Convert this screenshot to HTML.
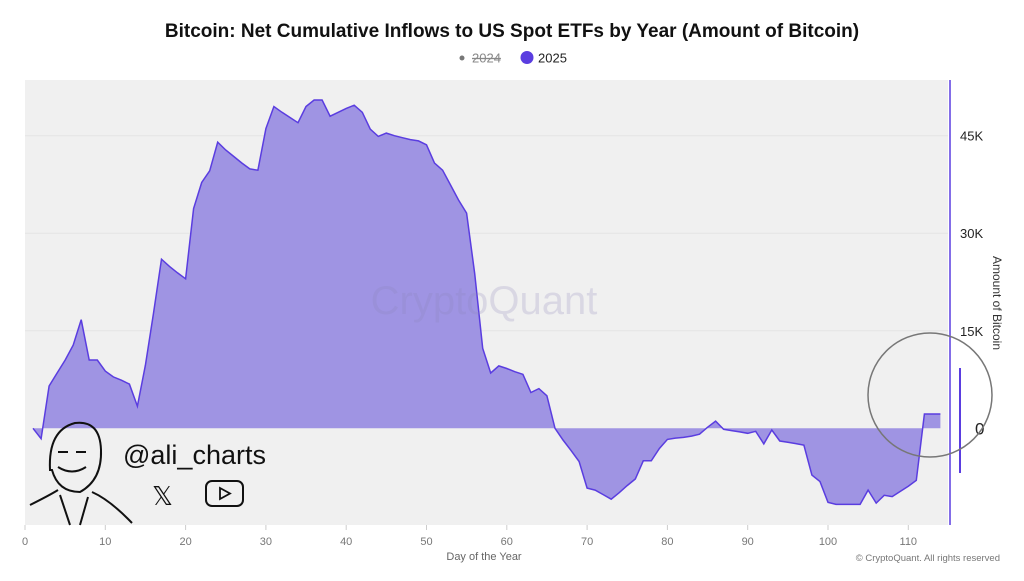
<!DOCTYPE html>
<html><head><meta charset="utf-8"><style>
body{margin:0;width:1024px;height:576px;background:#fff;overflow:hidden;font-family:"Liberation Sans",sans-serif}
</style></head><body>
<svg id="chart" width="1024" height="576" viewBox="0 0 1024 576" font-family="Liberation Sans, sans-serif">
<text x="512" y="37" text-anchor="middle" font-size="19" font-weight="bold" fill="#111">Bitcoin: Net Cumulative Inflows to US Spot ETFs by Year (Amount of Bitcoin)</text>
<g><circle cx="462" cy="58" r="2.5" fill="#777"/><text x="472" y="62.5" font-size="13" fill="#888" text-decoration="line-through">2024</text></g>
<g><circle cx="527" cy="57.5" r="6.5" fill="#5a3de0"/><text x="538" y="62.5" font-size="13" fill="#222">2025</text></g>
<rect x="25" y="80" width="923" height="445" fill="#f0f0f0"/>
<g id="grid"></g>
<g id="series"></g>
<text x="484" y="314" text-anchor="middle" font-size="40" fill="#8a84b8" opacity="0.22">CryptoQuant</text>
<line x1="950" y1="80" x2="950" y2="525" stroke="#5a3de0" stroke-width="1.5"/>
<line x1="960" y1="368" x2="960" y2="473" stroke="#5a3de0" stroke-width="2"/>
<g id="yticks"></g>
<g id="xticks"></g>
<text x="993" y="303" font-size="12" fill="#333" transform="rotate(90 993 303)" text-anchor="middle">Amount of Bitcoin</text>
<text x="484" y="560" text-anchor="middle" font-size="11" fill="#666">Day of the Year</text>
<text x="1000" y="561" text-anchor="end" font-size="9.5" fill="#777">© CryptoQuant. All rights reserved</text>
<circle cx="930" cy="395" r="62" fill="none" stroke="#777" stroke-width="1.5"/>
<g fill="none" stroke="#111" stroke-width="2">
<path d="M50 470 Q48 430 75 423 Q100 420 101 450 Q102 480 80 492 Q58 492 52 470 Z"/>
<path d="M58 467 Q72 476 86 467"/><path d="M58 452 h10 M76 452 h10"/>
<path d="M30 505 Q50 495 58 490 M92 492 Q110 500 132 523 M60 495 L70 525 M88 497 L80 525"/>
</g>
<text x="123" y="464" font-size="27" fill="#111">@ali_charts</text>
<text x="152" y="505" font-size="26" fill="#111">𝕏</text>
<g><rect x="206" y="481" width="37" height="25" rx="6" fill="none" stroke="#111" stroke-width="2"/><path d="M220 488 L230 493.5 L220 499 Z" fill="none" stroke="#111" stroke-width="1.8"/></g>
</svg>
<script>
const days=[];for(let i=1;i<=114;i++)days.push(i);
const values=[0,-1.6,6.5,8.5,10.5,12.8,16.7,10.5,10.5,8.8,7.9,7.4,6.8,3.4,9.7,17.7,26,24.9,23.9,23,33.8,37.8,39.6,44,42.8,41.8,40.8,39.9,39.7,46.1,49.5,48.6,47.8,47,49.5,50.5,50.5,48,48.6,49.2,49.7,48.6,46,44.9,45.4,45,44.7,44.4,44.2,43.6,40.8,39.7,37.4,35.1,33.1,23.8,12.3,8.5,9.6,9.2,8.7,8.3,5.5,6.1,5,0,-1.8,-3.4,-5.1,-9.2,-9.5,-10.2,-10.9,-9.9,-8.8,-7.8,-5,-5,-3.1,-1.7,-1.5,-1.4,-1.2,-0.9,0.15,1.1,-0.15,-0.36,-0.56,-0.77,-0.46,-2.4,-0.26,-1.95,-2.15,-2.36,-2.6,-7.2,-8.2,-11.4,-11.7,-11.7,-11.7,-11.7,-9.5,-11.5,-10.3,-10.5,-9.7,-8.9,-8,2.2,2.2,2.2];
const yTicks=[0,15,30,45];
const yTickLabels=["0","15K","30K","45K"];
const xTicks=[0,10,20,30,40,50,60,70,80,90,100,110];
const NS="http://www.w3.org/2000/svg";
const X=d=>25+8.03*d, Y=v=>428.3-v*1000/153.8;
function mk(t,a,p){const e=document.createElementNS(NS,t);for(const k in a)e.setAttribute(k,a[k]);p.appendChild(e);return e;}
const grid=document.getElementById('grid');
yTicks.forEach((t,i)=>{if(t===0)return;const l=mk('line',{x1:25,x2:948,y1:Y(t),y2:Y(t),stroke:'#e4e4e4'},grid);

});
const yt=document.getElementById('yticks');
yTicks.forEach((t,i)=>{const s=t===0;const e=mk('text',{x:s?975:960,y:Y(t)+(s?6:5),'font-size':s?17:13,fill:'#222'},yt);e.textContent=yTickLabels[i];

});
const xt=document.getElementById('xticks');
xTicks.forEach(t=>{mk('line',{x1:X(t),x2:X(t),y1:525,y2:530,stroke:'#ccc'},xt);const e=mk('text',{x:X(t),y:545,'font-size':11,fill:'#777','text-anchor':'middle'},xt);e.textContent=t;

});
const ser=document.getElementById('series');
let pts=days.map((d,i)=>X(d).toFixed(1)+','+Y(values[i]).toFixed(1));
const area=mk('path',{d:'M'+X(days[0])+','+Y(0)+' L'+pts.join(' L')+' L'+X(days[days.length-1])+','+Y(0)+' Z',fill:'#9f94e3'},ser);


const line=mk('polyline',{points:pts.join(' '),fill:'none',stroke:'#5a3de0','stroke-width':1.5},ser);


</script>
</body></html>
